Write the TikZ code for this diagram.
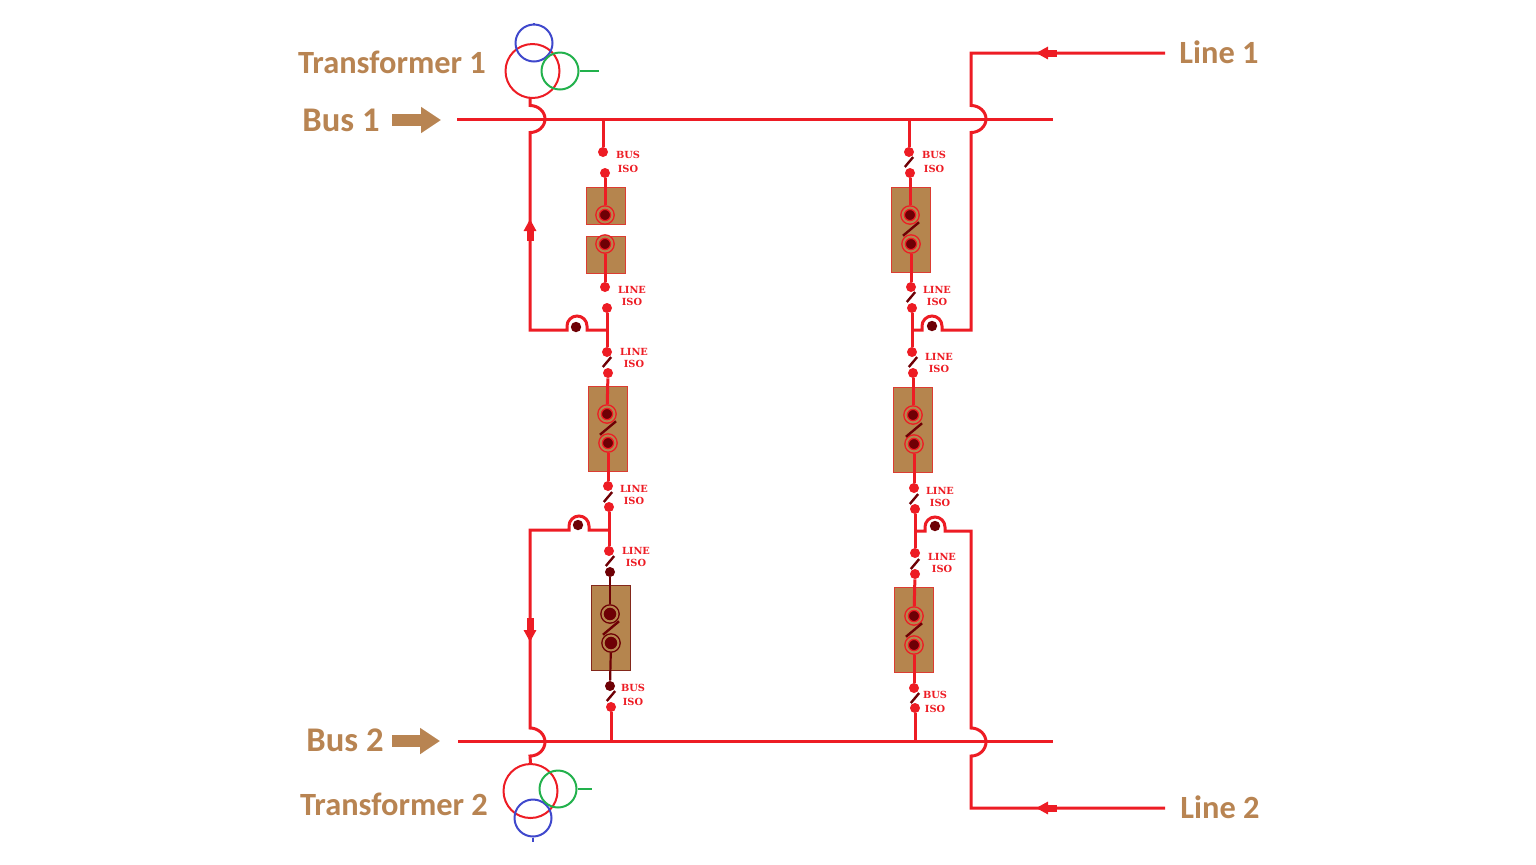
\documentclass[tikz,border=0pt]{standalone}
\usepackage{fontspec}
\setmainfont{Carlito}
\newfontfamily\isofont{DejaVu Serif}
\usetikzlibrary{arrows.meta}
\definecolor{wire}{RGB}{237,28,36}
\definecolor{maroon}{RGB}{110,0,5}
\definecolor{tan}{RGB}{181,133,78}
\definecolor{caption}{RGB}{184,132,82}
\definecolor{wgreen}{RGB}{34,177,76}
\definecolor{wblue}{RGB}{63,72,204}
\begin{document}
\begin{tikzpicture}
    [
        x=0.5pt, y=-0.5pt,
        line join=miter,
        wireline/.style={draw=wire, line width=1.5pt,},
        darkline/.style={draw=maroon, line width=1.1pt,},
        pin/.style={circle, fill=wire, inner sep=0pt, minimum size=5pt,},
        darkpin/.style={pin, fill=maroon,},
        blade/.style={rectangle, fill=maroon, rotate=50, inner sep=0pt, minimum width=6.5pt, minimum height=1.2pt,},
        longblade/.style={rectangle, fill=maroon, rotate=40, inner sep=0pt, minimum width=10.5pt, minimum height=1.2pt,},
        breaker/.style={rectangle, fill=tan, draw=wire!70!tan, line width=0.5pt, inner sep=0pt, minimum width=19.5pt,},
        contact/.style={circle, fill=maroon, draw=wire, double=tan, double distance=1pt, line width=0.7pt, inner sep=0pt, minimum size=7.4pt, outer sep=1.2pt,},
        darkcontact/.style={contact, draw=maroon,},
        dot/.style={circle, fill=maroon, inner sep=0pt, minimum size=5.2pt,},
        iso/.style={font=\isofont\bfseries\fontsize{4.9}{6}\selectfont, text=wire, align=center, inner sep=0pt,},
        caption/.style={font=\bfseries\fontsize{16.2}{19}\selectfont, text=caption, inner sep=0pt,},
        buscaption/.style={font=\bfseries\fontsize{17.3}{20}\selectfont, text=caption, inner sep=0pt,},
        winding/.style={circle, draw=#1, line width=1pt, inner sep=0pt,},
        flow/.style={draw=wire, line width=3.5pt, -{Triangle[length=6pt,width=6pt]},},
        busarrow/.style={draw=caption, line width=6pt, -{Triangle[length=10pt,width=12.5pt]},},
    ]

    \useasboundingbox (0,0) rectangle (1536,864);

    % breakers, left bay
    \node (br1) at (605.5,205.5) [breaker, minimum height=18.5pt] {};
    \node (br2) at (605.5,254.5) [breaker, minimum height=18.5pt] {};
    \node (br3) at (607.5,428.5) [breaker, minimum height=42.5pt] {};
    \node (br4) at (610.5,627.5) [breaker, minimum height=42.5pt, draw=maroon!70!tan] {};

    % breakers, right bay
    \node (br5) at (910.5,229.5) [breaker, minimum height=42.5pt] {};
    \node (br6) at (913,429.5)   [breaker, minimum height=42.5pt] {};
    \node (br7) at (913.5,629.5) [breaker, minimum height=42.5pt] {};

    % left bay, top to bottom
    \coordinate (ta) at (603,119.5);
    \node (a1) at (603,152)  [pin] {};
    \node (a2) at (605,173)  [pin] {};
    \node (a3) at (605,215)  [contact] {};
    \node (a4) at (605,244)  [contact] {};
    \node (a5) at (605,287)  [pin] {};
    \node (a6) at (607,308)  [pin] {};
    \coordinate (ja) at (607,330);
    \node (a7) at (607,352)  [pin] {};
    \node (a8) at (608,373)  [pin] {};
    \node (a9) at (607,414)  [contact] {};
    \node (a10) at (608,443) [contact] {};
    \node (a11) at (608,486) [pin] {};
    \node (a12) at (609,507) [pin] {};
    \coordinate (jb) at (609,530);
    \node (a13) at (609,551) [pin] {};
    \node (a14) at (610,572) [darkpin] {};
    \node (a15) at (610,614) [darkcontact] {};
    \node (a16) at (611,643) [darkcontact] {};
    \node (a17) at (610,686) [darkpin] {};
    \node (a18) at (611,707) [pin] {};
    \coordinate (tb) at (611,741.5);

    % right bay, top to bottom
    \coordinate (tc) at (909,119.5);
    \node (b1) at (909,152)  [pin] {};
    \node (b2) at (910,173)  [pin] {};
    \node (b3) at (910,215)  [contact] {};
    \node (b4) at (911,244)  [contact] {};
    \node (b5) at (911,287)  [pin] {};
    \node (b6) at (912,308)  [pin] {};
    \coordinate (jc) at (912,330);
    \node (b7) at (912,352)  [pin] {};
    \node (b8) at (913,373)  [pin] {};
    \node (b9) at (913,415)  [contact] {};
    \node (b10) at (914,444) [contact] {};
    \node (b11) at (914,488) [pin] {};
    \node (b12) at (915,509) [pin] {};
    \coordinate (jd) at (915,531);
    \node (b13) at (915,553) [pin] {};
    \node (b14) at (915,574) [pin] {};
    \node (b15) at (914,616) [contact] {};
    \node (b16) at (914,645) [contact] {};
    \node (b17) at (914,688) [pin] {};
    \node (b18) at (915,708) [pin] {};
    \coordinate (td) at (915,741.5);

    % isolator and breaker blades
    \node (s1) at (607,362)  [blade] {};
    \node (s2) at (608,497)  [blade] {};
    \node (s3) at (610,561)  [blade] {};
    \node (s4) at (611,696)  [blade] {};
    \node (s5) at (909,162)  [blade] {};
    \node (s6) at (911,297)  [blade] {};
    \node (s7) at (913,362)  [blade] {};
    \node (s8) at (914,499)  [blade] {};
    \node (s9) at (915,564)  [blade] {};
    \node (s10) at (915,698) [blade] {};
    \node (s11) at (608,428) [longblade] {};
    \node (s12) at (611,628) [longblade] {};
    \node (s13) at (911,229) [longblade] {};
    \node (s14) at (914,430) [longblade] {};
    \node (s15) at (914,630) [longblade] {};

    % dots under the jumps
    \node (d1) at (576,327) [dot] {};
    \node (d2) at (578,525) [dot] {};
    \node (d3) at (932,326) [dot] {};
    \node (d4) at (935,526) [dot] {};

    % transformers
    \node (t1r) at (532.5,71) [winding=wire, minimum size=27pt] {};
    \node (t1b) at (534,43)   [winding=wblue, minimum size=18.5pt] {};
    \node (t1g) at (560,71)   [winding=wgreen, minimum size=18.5pt] {};
    \node (t2r) at (530.5,791) [winding=wire, minimum size=27pt] {};
    \node (t2b) at (533,818)   [winding=wblue, minimum size=18.5pt] {};
    \node (t2g) at (558,789)   [winding=wgreen, minimum size=18.5pt] {};
    \coordinate (t1bend) at (534,23);
    \coordinate (t1gend) at (599,71);
    \coordinate (t2bend) at (533,842);
    \coordinate (t2gend) at (592,789);

    \draw [draw=wblue, line width=1pt] (t1b) -- (t1bend);
    \draw [draw=wgreen, line width=1pt] (t1g) -- (t1gend);
    \draw [draw=wblue, line width=1pt] (t2b) -- (t2bend);
    \draw [draw=wgreen, line width=1pt] (t2g) -- (t2gend);

    % buses
    \coordinate (bus1w) at (457,119.5);
    \coordinate (bus1e) at (1053,119.5);
    \coordinate (bus2w) at (458,741.5);
    \coordinate (bus2e) at (1053,741.5);
    \draw [wireline] (bus1w) -- (bus1e);
    \draw [wireline] (bus2w) -- (bus2e);

    % bay wiring
    \draw [wireline] (ta) -- (a1);
    \draw [wireline] (a2) -- (a3);
    \draw [wireline] (a4) -- (a5);
    \draw [wireline] (a6) -- (a7);
    \draw [wireline] (a8) -- (a9);
    \draw [wireline] (a10) -- (a11);
    \draw [wireline] (a12) -- (a13);
    \draw [darkline] (a14) -- (a15);
    \draw [darkline] (a16) -- (a17);
    \draw [wireline] (a18) -- (tb);
    \draw [wireline] (tc) -- (b1);
    \draw [wireline] (b2) -- (b3);
    \draw [wireline] (b4) -- (b5);
    \draw [wireline] (b6) -- (b7);
    \draw [wireline] (b8) -- (b9);
    \draw [wireline] (b10) -- (b11);
    \draw [wireline] (b12) -- (b13);
    \draw [wireline] (b14) -- (b15);
    \draw [wireline] (b16) -- (b17);
    \draw [wireline] (b18) -- (td);

    % feeders with their jumps
    \coordinate (f0) at (530,97);
    \coordinate (f1) at (530,105.5);
    \coordinate (f2) at (530,330);
    \coordinate (f3) at (567,330);
    \coordinate (f4) at (530,530);
    \coordinate (f5) at (589,530);
    \coordinate (f6) at (530,728);
    \coordinate (f7) at (971,105.5);
    \coordinate (f8) at (971,330);
    \coordinate (f9) at (942,330);
    \coordinate (f10) at (971,531);
    \coordinate (f11) at (925,531);
    \coordinate (f12) at (971,728);
    \coordinate (line1end) at (1165,53);
    \coordinate (line1top) at (971,53);
    \coordinate (line2end) at (1165,808);
    \coordinate (line2low) at (971,808);

    \draw [wireline] (f0) -- (f1) arc[start angle=90, end angle=-90, x radius=7.5pt, y radius=6.75pt] -- (f2) -- (f3)
        -- ++(0,-4) arc[start angle=180, end angle=0, radius=5pt] -- ++(0,4) -- (ja);
    \draw [wireline] (jb) -- (f5) -- ++(0,-4) arc[start angle=0, end angle=180, radius=5pt] -- ++(0,4) -- (f4) -- (f6)
        arc[start angle=90, end angle=-90, x radius=7.5pt, y radius=7pt] -- (t2r.north);
    \draw [wireline] (line1end) -- (line1top) -- (f7) arc[start angle=90, end angle=-90, x radius=7.5pt, y radius=6.75pt] -- (f8) -- (f9)
        -- ++(0,-4) arc[start angle=0, end angle=180, radius=5pt] -- ++(0,4) -- (jc);
    \draw [wireline] (jd) -- (f11) -- ++(0,-4) arc[start angle=180, end angle=0, radius=5pt] -- ++(0,4) -- (f10) -- (f12)
        arc[start angle=90, end angle=-90, x radius=7.5pt, y radius=7pt] -- (line2low) -- (line2end);

    % direction of flow
    \coordinate (fl1a) at (530,241);
    \coordinate (fl1b) at (530,219);
    \coordinate (fl2a) at (530,618);
    \coordinate (fl2b) at (530,642);
    \coordinate (fl3a) at (1057,53);
    \coordinate (fl3b) at (1036,53);
    \coordinate (fl4a) at (1057,808);
    \coordinate (fl4b) at (1036,808);
    \draw [flow] (fl1a) -- (fl1b);
    \draw [flow] (fl2a) -- (fl2b);
    \draw [flow] (fl3a) -- (fl3b);
    \draw [flow] (fl4a) -- (fl4b);

    % captions
    \node (cap1) at (392,62)   [caption] {Transformer 1};
    \node (cap2) at (341,120)  [buscaption] {Bus 1};
    \node (cap3) at (1219,52)  [caption] {Line 1};
    \node (cap4) at (345,740)  [buscaption] {Bus 2};
    \node (cap5) at (394,804)  [caption] {Transformer 2};
    \node (cap6) at (1220,807) [caption] {Line 2};

    \coordinate (ar1a) at (392,120);
    \coordinate (ar1b) at (441,120);
    \coordinate (ar2a) at (392,741);
    \coordinate (ar2b) at (440,741);
    \draw [busarrow] (ar1a) -- (ar1b);
    \draw [busarrow] (ar2a) -- (ar2b);

    % isolator labels
    \node (l1) at (628,162)  [iso] {BUS\\[1pt]ISO};
    \node (l2) at (632,296)  [iso] {LINE\\ISO};
    \node (l3) at (634,358)  [iso] {LINE\\ISO};
    \node (l4) at (634,495)  [iso] {LINE\\ISO};
    \node (l5) at (636,557)  [iso] {LINE\\ISO};
    \node (l6) at (633,695)  [iso] {BUS\\[1pt]ISO};
    \node (l7) at (934,162)  [iso] {BUS\\[1pt]ISO};
    \node (l8) at (937,296)  [iso] {LINE\\ISO};
    \node (l9) at (939,363)  [iso] {LINE\\ISO};
    \node (l10) at (940,497) [iso] {LINE\\ISO};
    \node (l11) at (942,563) [iso] {LINE\\ISO};
    \node (l12) at (935,702) [iso] {BUS\\[1pt]ISO};

\end{tikzpicture}
\end{document}
